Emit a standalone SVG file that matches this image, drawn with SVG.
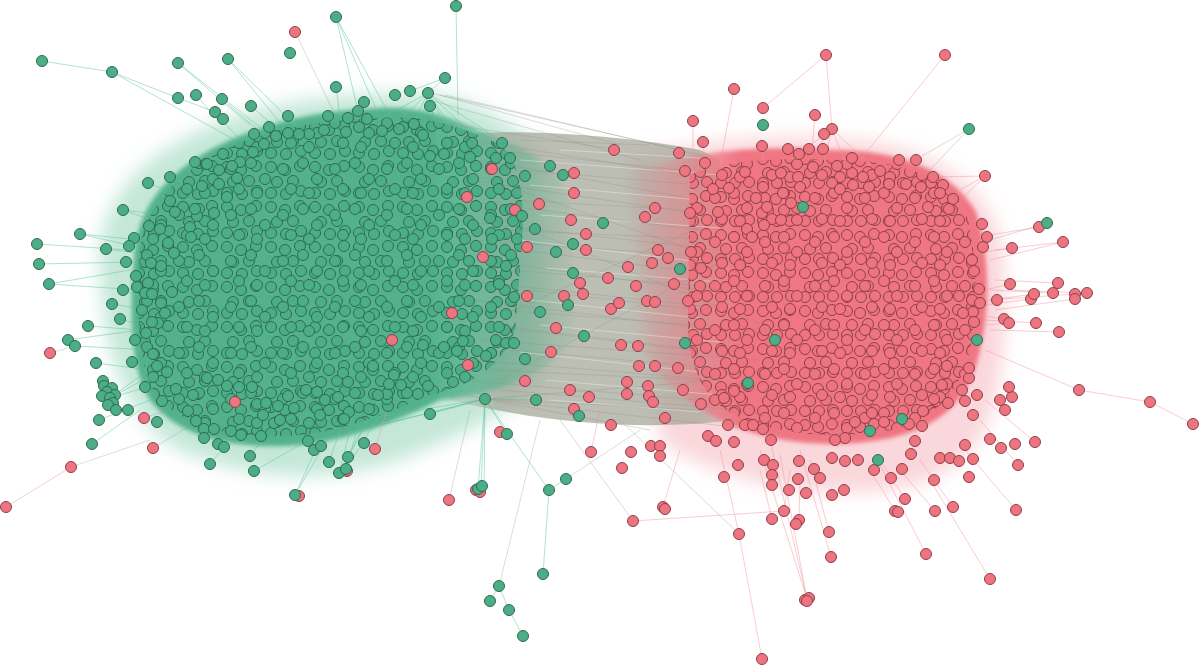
<svg xmlns="http://www.w3.org/2000/svg" width="1200" height="666" viewBox="0 0 1200 666">
<style>
.g{fill:#4cae87;stroke:#2e6a52;stroke-width:1}
.p{fill:#ee7480;stroke:#8d3f4a;stroke-width:1}
.eg{stroke:#5cc29b;stroke-opacity:.6;stroke-width:.8;fill:none}
.ep{stroke:#f2949e;stroke-opacity:.6;stroke-width:.8;fill:none}
.ex{stroke:#8f9285;stroke-opacity:.45;stroke-width:.7;fill:none}
.ew{stroke:#ffffff;stroke-opacity:.35;stroke-width:1.2;fill:none}
</style>
<defs>
<filter id="blur" x="-20%" y="-20%" width="140%" height="140%"><feGaussianBlur stdDeviation="9"/></filter>
<filter id="soft" x="-10%" y="-10%" width="120%" height="120%"><feGaussianBlur stdDeviation="2"/></filter>
<linearGradient id="gG" gradientUnits="userSpaceOnUse" x1="430" y1="0" x2="590" y2="0">
<stop offset="0" stop-color="#52b28b" stop-opacity="1"/><stop offset="1" stop-color="#52b28b" stop-opacity="0"/></linearGradient>
<linearGradient id="gP" gradientUnits="userSpaceOnUse" x1="630" y1="0" x2="740" y2="0">
<stop offset="0" stop-color="#ef7682" stop-opacity="0"/><stop offset="1" stop-color="#ef7682" stop-opacity="1"/></linearGradient>
<linearGradient id="gX" gradientUnits="userSpaceOnUse" x1="430" y1="0" x2="770" y2="0">
<stop offset="0" stop-color="#a3a597" stop-opacity="0"/><stop offset=".2" stop-color="#a3a597" stop-opacity=".72"/><stop offset=".8" stop-color="#a3a597" stop-opacity=".72"/><stop offset="1" stop-color="#a3a597" stop-opacity="0"/></linearGradient>
<pattern id="pg1" width="44" height="40" patternUnits="userSpaceOnUse">
<g class="g"><circle cx="7" cy="7" r="5.5"/><circle cx="21" cy="10" r="5.5"/><circle cx="36" cy="6" r="5.5"/><circle cx="13" cy="22" r="5.5"/><circle cx="29" cy="21" r="5.5"/><circle cx="7" cy="33" r="5.5"/><circle cx="22" cy="34" r="5.5"/><circle cx="37" cy="31" r="5.5"/></g>
</pattern>
<pattern id="pg2" width="52" height="46" patternUnits="userSpaceOnUse" patternTransform="translate(13,17)">
<g class="g"><circle cx="10" cy="14" r="5.5"/><circle cx="30" cy="8" r="5.5"/><circle cx="44" cy="24" r="5.5"/><circle cx="18" cy="34" r="5.5"/><circle cx="36" cy="38" r="5.5"/></g>
</pattern>
<pattern id="pp1" width="42" height="38" patternUnits="userSpaceOnUse">
<g class="p"><circle cx="7" cy="7" r="5.5"/><circle cx="20" cy="9" r="5.5"/><circle cx="34" cy="6" r="5.5"/><circle cx="12" cy="21" r="5.5"/><circle cx="28" cy="20" r="5.5"/><circle cx="7" cy="31" r="5.5"/><circle cx="21" cy="31" r="5.5"/><circle cx="35" cy="30" r="5.5"/></g>
</pattern>
<pattern id="pp2" width="50" height="44" patternUnits="userSpaceOnUse" patternTransform="translate(5,9)">
<g class="p"><circle cx="10" cy="13" r="5.5"/><circle cx="29" cy="8" r="5.5"/><circle cx="42" cy="23" r="5.5"/><circle cx="17" cy="34" r="5.5"/><circle cx="35" cy="36" r="5.5"/></g>
</pattern>
</defs>
<rect width="1200" height="666" fill="#ffffff"/>
<g id="background">
<path d="M100,250 C105,190 150,150 220,122 C280,98 380,90 440,95 C480,102 520,130 540,150 L545,380 C500,420 450,440 400,460 C330,485 250,478 190,455 C130,430 100,360 100,250 Z" fill="#6cc4a0" fill-opacity=".4" filter="url(#blur)"/>
<path d="M630,160 C700,138 800,132 870,142 C940,152 990,190 1000,240 C1010,300 1005,380 985,430 C960,480 900,495 830,492 C760,488 700,470 660,440 Z" fill="#f29aa4" fill-opacity=".4" filter="url(#blur)"/>
<path d="M440,135 C520,128 620,135 700,150 L720,160 L735,420 C640,432 540,422 450,400 Z" fill="url(#gX)"/>
<path d="M135,250 C140,200 175,165 230,140 C280,118 330,110 380,108 C430,106 470,125 500,140 C530,150 560,170 570,200 L575,340 C540,380 490,395 440,400 C400,420 350,440 300,445 C240,450 180,440 150,400 C128,365 130,300 135,250 Z" fill="url(#gG)" filter="url(#soft)"/>
<path d="M620,180 C680,150 760,145 830,150 C900,150 950,170 975,210 C990,250 990,310 980,350 C970,400 940,430 880,440 C820,450 760,440 720,420 C680,400 650,370 630,330 Z" fill="url(#gP)" filter="url(#soft)"/>
</g>
<g id="connectors">
<g class="ew">
<line x1="520" y1="160" x2="720" y2="175"/><line x1="530" y1="185" x2="700" y2="200"/><line x1="540" y1="215" x2="720" y2="228"/><line x1="520" y1="240" x2="700" y2="262"/><line x1="545" y1="268" x2="720" y2="282"/><line x1="530" y1="300" x2="700" y2="318"/><line x1="540" y1="325" x2="720" y2="342"/><line x1="520" y1="352" x2="700" y2="372"/><line x1="545" y1="380" x2="720" y2="395"/><line x1="560" y1="150" x2="700" y2="158"/><line x1="550" y1="400" x2="700" y2="412"/>
</g>
<g class="eg">
<line x1="42" y1="61" x2="112" y2="72"/><line x1="112" y1="72" x2="178" y2="98"/><line x1="112" y1="72" x2="235" y2="140"/>
<line x1="178" y1="63" x2="250" y2="125"/><line x1="178" y1="63" x2="270" y2="135"/><line x1="228" y1="59" x2="290" y2="135"/><line x1="228" y1="59" x2="300" y2="130"/>
<line x1="336" y1="17" x2="358" y2="111"/><line x1="336" y1="17" x2="395" y2="125"/><line x1="336" y1="17" x2="380" y2="118"/>
<line x1="456" y1="6" x2="458" y2="115"/><line x1="445" y1="78" x2="428" y2="93"/><line x1="445" y1="78" x2="410" y2="91"/><line x1="336" y1="87" x2="340" y2="116"/>
<line x1="428" y1="93" x2="380" y2="140"/><line x1="428" y1="93" x2="400" y2="150"/><line x1="428" y1="93" x2="420" y2="160"/><line x1="428" y1="93" x2="440" y2="150"/><line x1="428" y1="93" x2="460" y2="140"/><line x1="428" y1="93" x2="470" y2="170"/><line x1="428" y1="93" x2="490" y2="150"/><line x1="428" y1="93" x2="360" y2="130"/><line x1="428" y1="93" x2="450" y2="180"/><line x1="428" y1="93" x2="410" y2="170"/><line x1="428" y1="93" x2="500" y2="140"/>
<line x1="178" y1="98" x2="215" y2="112"/><line x1="196" y1="95" x2="222" y2="125"/><line x1="222" y1="99" x2="270" y2="140"/><line x1="251" y1="106" x2="290" y2="140"/><line x1="288" y1="116" x2="300" y2="130"/><line x1="215" y1="112" x2="240" y2="140"/>
<line x1="148" y1="183" x2="190" y2="200"/><line x1="170" y1="177" x2="200" y2="190"/><line x1="123" y1="210" x2="165" y2="215"/><line x1="123" y1="210" x2="180" y2="230"/>
<line x1="80" y1="234" x2="140" y2="240"/><line x1="80" y1="234" x2="150" y2="250"/><line x1="37" y1="244" x2="130" y2="250"/><line x1="39" y1="264" x2="135" y2="262"/><line x1="49" y1="284" x2="130" y2="270"/><line x1="49" y1="284" x2="140" y2="290"/>
<line x1="106" y1="249" x2="150" y2="255"/><line x1="123" y1="290" x2="150" y2="300"/><line x1="112" y1="304" x2="150" y2="310"/><line x1="88" y1="326" x2="140" y2="330"/><line x1="120" y1="319" x2="160" y2="330"/>
<line x1="67" y1="340" x2="140" y2="330"/><line x1="75" y1="346" x2="150" y2="350"/><line x1="96" y1="363" x2="150" y2="370"/><line x1="99" y1="420" x2="150" y2="400"/><line x1="92" y1="444" x2="140" y2="410"/>
<line x1="110" y1="398" x2="170" y2="380"/><line x1="110" y1="398" x2="180" y2="360"/><line x1="110" y1="398" x2="190" y2="340"/>
<line x1="210" y1="464" x2="230" y2="440"/><line x1="254" y1="471" x2="300" y2="445"/><line x1="250" y1="456" x2="270" y2="430"/><line x1="295" y1="495" x2="320" y2="440"/><line x1="339" y1="473" x2="350" y2="430"/><line x1="346" y1="469" x2="360" y2="420"/><line x1="348" y1="457" x2="380" y2="400"/><line x1="329" y1="462" x2="340" y2="430"/>
<line x1="485" y1="399" x2="478" y2="489"/><line x1="485" y1="399" x2="481" y2="486"/><line x1="485" y1="399" x2="484" y2="489"/><line x1="485" y1="399" x2="430" y2="414"/><line x1="485" y1="399" x2="507" y2="434"/><line x1="485" y1="399" x2="360" y2="420"/><line x1="485" y1="399" x2="320" y2="440"/><line x1="485" y1="399" x2="300" y2="445"/><line x1="485" y1="399" x2="400" y2="380"/><line x1="485" y1="399" x2="450" y2="360"/><line x1="485" y1="399" x2="549" y2="490"/><line x1="485" y1="399" x2="540" y2="400"/>
<line x1="549" y1="490" x2="566" y2="479"/><line x1="543" y1="574" x2="549" y2="490"/><line x1="509" y1="610" x2="523" y2="636"/><line x1="499" y1="586" x2="509" y2="610"/><line x1="490" y1="601" x2="499" y2="586"/>
<line x1="400" y1="360" x2="340" y2="470"/><line x1="420" y1="350" x2="346" y2="469"/><line x1="380" y1="350" x2="295" y2="495"/>
</g>
<g class="ep">
<line x1="826" y1="55" x2="763" y2="108"/><line x1="826" y1="55" x2="832" y2="129"/><line x1="945" y1="55" x2="860" y2="160"/><line x1="734" y1="89" x2="720" y2="165"/><line x1="693" y1="121" x2="693" y2="160"/><line x1="815" y1="115" x2="812" y2="150"/>
<line x1="832" y1="129" x2="800" y2="170"/><line x1="832" y1="129" x2="850" y2="175"/><line x1="832" y1="129" x2="870" y2="165"/><line x1="832" y1="129" x2="820" y2="180"/><line x1="832" y1="129" x2="790" y2="160"/>
<line x1="703" y1="142" x2="705" y2="163"/><line x1="762" y1="146" x2="763" y2="160"/>
<line x1="985" y1="176" x2="933" y2="177"/><line x1="985" y1="176" x2="950" y2="210"/><line x1="985" y1="176" x2="960" y2="190"/>
<line x1="1039" y1="227" x2="990" y2="235"/><line x1="1063" y1="242" x2="990" y2="260"/><line x1="1063" y1="242" x2="995" y2="250"/><line x1="1012" y1="248" x2="985" y2="252"/>
<line x1="1010" y1="284" x2="985" y2="290"/><line x1="997" y1="300" x2="980" y2="300"/><line x1="1031" y1="299" x2="985" y2="305"/><line x1="1034" y1="294" x2="990" y2="300"/><line x1="1053" y1="293" x2="990" y2="290"/><line x1="1058" y1="283" x2="995" y2="280"/><line x1="1075" y1="294" x2="990" y2="300"/><line x1="1075" y1="299" x2="995" y2="310"/><line x1="1087" y1="293" x2="1010" y2="290"/>
<line x1="1004" y1="319" x2="980" y2="315"/><line x1="1036" y1="323" x2="985" y2="320"/><line x1="1009" y1="323" x2="985" y2="325"/><line x1="1059" y1="332" x2="990" y2="330"/>
<line x1="1079" y1="390" x2="985" y2="350"/><line x1="1150" y1="402" x2="1079" y2="390"/><line x1="1193" y1="424" x2="1150" y2="402"/>
<line x1="1035" y1="442" x2="985" y2="400"/><line x1="1018" y1="465" x2="980" y2="420"/><line x1="1016" y1="510" x2="965" y2="450"/><line x1="990" y1="579" x2="930" y2="480"/><line x1="926" y1="554" x2="880" y2="465"/><line x1="953" y1="507" x2="920" y2="460"/><line x1="935" y1="511" x2="900" y2="470"/><line x1="905" y1="499" x2="880" y2="460"/><line x1="895" y1="511" x2="870" y2="470"/>
<line x1="762" y1="659" x2="739" y2="534"/><line x1="739" y1="534" x2="720" y2="450"/><line x1="807" y1="599" x2="760" y2="450"/><line x1="807" y1="599" x2="770" y2="440"/><line x1="807" y1="599" x2="780" y2="455"/><line x1="831" y1="557" x2="800" y2="450"/><line x1="829" y1="532" x2="810" y2="460"/>
<line x1="633" y1="521" x2="784" y2="511"/><line x1="663" y1="507" x2="680" y2="450"/><line x1="772" y1="519" x2="760" y2="470"/><line x1="784" y1="511" x2="790" y2="470"/><line x1="799" y1="520" x2="800" y2="480"/>
<line x1="6" y1="507" x2="71" y2="467"/><line x1="375" y1="449" x2="390" y2="400"/><line x1="591" y1="452" x2="600" y2="410"/>
</g>
<g class="ex">
<line x1="295" y1="32" x2="340" y2="125"/><line x1="969" y1="129" x2="915" y2="160"/><line x1="969" y1="129" x2="925" y2="175"/><line x1="1047" y1="223" x2="990" y2="240"/>
<line x1="71" y1="467" x2="150" y2="440"/><line x1="153" y1="448" x2="200" y2="420"/><line x1="144" y1="418" x2="200" y2="400"/><line x1="50" y1="353" x2="75" y2="346"/>
<line x1="449" y1="500" x2="470" y2="410"/><line x1="499" y1="586" x2="540" y2="420"/><line x1="633" y1="521" x2="560" y2="420"/><line x1="739" y1="534" x2="620" y2="420"/><line x1="566" y1="479" x2="640" y2="430"/>
<line x1="420" y1="120" x2="620" y2="150"/><line x1="430" y1="100" x2="640" y2="160"/><line x1="445" y1="95" x2="700" y2="155"/><line x1="440" y1="95" x2="620" y2="145"/><line x1="430" y1="93" x2="680" y2="150"/>
<line x1="470" y1="140" x2="720" y2="180"/><line x1="480" y1="160" x2="700" y2="200"/><line x1="470" y1="180" x2="740" y2="220"/><line x1="460" y1="200" x2="700" y2="230"/><line x1="450" y1="220" x2="720" y2="250"/><line x1="470" y1="240" x2="760" y2="260"/><line x1="480" y1="260" x2="700" y2="290"/><line x1="460" y1="280" x2="740" y2="310"/><line x1="470" y1="300" x2="720" y2="330"/><line x1="450" y1="320" x2="700" y2="350"/><line x1="480" y1="340" x2="760" y2="360"/><line x1="470" y1="360" x2="720" y2="380"/><line x1="460" y1="380" x2="700" y2="400"/><line x1="500" y1="390" x2="740" y2="410"/>
<line x1="490" y1="150" x2="680" y2="170"/><line x1="520" y1="170" x2="760" y2="190"/><line x1="510" y1="200" x2="690" y2="210"/><line x1="500" y1="230" x2="730" y2="240"/><line x1="520" y1="250" x2="680" y2="270"/><line x1="510" y1="270" x2="750" y2="290"/><line x1="530" y1="290" x2="700" y2="310"/><line x1="500" y1="310" x2="760" y2="330"/><line x1="520" y1="330" x2="690" y2="350"/><line x1="510" y1="350" x2="740" y2="370"/><line x1="490" y1="370" x2="700" y2="380"/><line x1="520" y1="140" x2="650" y2="145"/>
<line x1="485" y1="399" x2="700" y2="410"/><line x1="485" y1="399" x2="720" y2="380"/><line x1="485" y1="399" x2="650" y2="430"/><line x1="485" y1="399" x2="760" y2="430"/>
<line x1="460" y1="170" x2="780" y2="280"/><line x1="470" y1="330" x2="760" y2="200"/><line x1="480" y1="210" x2="800" y2="340"/><line x1="500" y1="380" x2="780" y2="230"/>
</g>
</g>
<g id="cluster-green">
<path d="M140,250 C145,205 180,170 232,146 C280,125 330,120 380,118 C430,115 470,130 500,145 C520,160 525,200 522,240 L515,330 C500,370 470,385 430,395 C395,410 350,430 300,435 C240,440 190,430 160,400 C135,370 137,300 140,250 Z" fill="url(#pg1)"/>
<path d="M140,250 C145,205 180,170 232,146 C280,125 330,120 380,118 C430,115 470,130 500,145 C520,160 525,200 522,240 L515,330 C500,370 470,385 430,395 C395,410 350,430 300,435 C240,440 190,430 160,400 C135,370 137,300 140,250 Z" fill="url(#pg2)"/>
</g>
<g id="cluster-pink">
<path d="M690,175 C720,160 780,158 830,160 C900,160 945,175 965,210 C978,250 978,310 970,350 C960,395 930,425 880,432 C820,440 770,432 735,415 C705,400 690,370 688,330 Z" fill="url(#pp1)"/>
<path d="M690,175 C720,160 780,158 830,160 C900,160 945,175 965,210 C978,250 978,310 970,350 C960,395 930,425 880,432 C820,440 770,432 735,415 C705,400 690,370 688,330 Z" fill="url(#pp2)"/>
</g>
<g id="nodes-pink" class="p">
<circle cx="295" cy="32" r="5.5"/><circle cx="50" cy="353" r="5.5"/><circle cx="6" cy="507" r="5.5"/><circle cx="71" cy="467" r="5.5"/><circle cx="153" cy="448" r="5.5"/><circle cx="144" cy="418" r="5.5"/><circle cx="235" cy="402" r="5.5"/><circle cx="299" cy="496" r="5.5"/><circle cx="347" cy="471" r="5.5"/><circle cx="375" cy="449" r="5.5"/><circle cx="392" cy="340" r="5.5"/><circle cx="449" cy="500" r="5.5"/><circle cx="476" cy="490" r="5.5"/><circle cx="480" cy="492" r="5.5"/><circle cx="500" cy="432" r="5.5"/>
<circle cx="492" cy="169" r="5.5"/><circle cx="467" cy="197" r="5.5"/><circle cx="574" cy="173" r="5.5"/><circle cx="574" cy="193" r="5.5"/><circle cx="539" cy="204" r="5.5"/><circle cx="515" cy="210" r="5.5"/><circle cx="571" cy="220" r="5.5"/><circle cx="586" cy="234" r="5.5"/><circle cx="527" cy="247" r="5.5"/><circle cx="483" cy="257" r="5.5"/><circle cx="586" cy="250" r="5.5"/><circle cx="580" cy="283" r="5.5"/><circle cx="583" cy="294" r="5.5"/><circle cx="564" cy="296" r="5.5"/><circle cx="527" cy="296" r="5.5"/><circle cx="452" cy="313" r="5.5"/><circle cx="556" cy="328" r="5.5"/><circle cx="468" cy="365" r="5.5"/><circle cx="570" cy="390" r="5.5"/><circle cx="589" cy="397" r="5.5"/><circle cx="574" cy="409" r="5.5"/><circle cx="525" cy="381" r="5.5"/><circle cx="551" cy="352" r="5.5"/><circle cx="591" cy="452" r="5.5"/>
<circle cx="826" cy="55" r="5.5"/><circle cx="945" cy="55" r="5.5"/><circle cx="734" cy="89" r="5.5"/><circle cx="763" cy="108" r="5.5"/><circle cx="693" cy="121" r="5.5"/><circle cx="815" cy="115" r="5.5"/><circle cx="832" cy="129" r="5.5"/><circle cx="824" cy="134" r="5.5"/><circle cx="703" cy="142" r="5.5"/><circle cx="762" cy="146" r="5.5"/><circle cx="614" cy="150" r="5.5"/><circle cx="679" cy="153" r="5.5"/><circle cx="788" cy="149" r="5.5"/><circle cx="799" cy="154" r="5.5"/><circle cx="809" cy="149" r="5.5"/><circle cx="823" cy="149" r="5.5"/><circle cx="705" cy="163" r="5.5"/><circle cx="852" cy="158" r="5.5"/><circle cx="899" cy="160" r="5.5"/><circle cx="916" cy="160" r="5.5"/><circle cx="985" cy="176" r="5.5"/><circle cx="685" cy="171" r="5.5"/><circle cx="745" cy="172" r="5.5"/><circle cx="880" cy="171" r="5.5"/><circle cx="933" cy="177" r="5.5"/><circle cx="943" cy="185" r="5.5"/>
<circle cx="763" cy="187" r="5.5"/><circle cx="781" cy="173" r="5.5"/><circle cx="798" cy="177" r="5.5"/><circle cx="800" cy="187" r="5.5"/><circle cx="813" cy="167" r="5.5"/><circle cx="837" cy="166" r="5.5"/><circle cx="832" cy="183" r="5.5"/><circle cx="840" cy="189" r="5.5"/><circle cx="853" cy="185" r="5.5"/><circle cx="863" cy="177" r="5.5"/><circle cx="869" cy="187" r="5.5"/><circle cx="889" cy="184" r="5.5"/><circle cx="906" cy="184" r="5.5"/><circle cx="921" cy="187" r="5.5"/><circle cx="940" cy="193" r="5.5"/><circle cx="928" cy="207" r="5.5"/><circle cx="783" cy="193" r="5.5"/><circle cx="756" cy="198" r="5.5"/><circle cx="762" cy="213" r="5.5"/><circle cx="767" cy="207" r="5.5"/><circle cx="791" cy="203" r="5.5"/><circle cx="781" cy="220" r="5.5"/><circle cx="797" cy="220" r="5.5"/><circle cx="747" cy="229" r="5.5"/><circle cx="752" cy="237" r="5.5"/><circle cx="764" cy="225" r="5.5"/>
<circle cx="1039" cy="227" r="5.5"/><circle cx="1063" cy="242" r="5.5"/><circle cx="1012" cy="248" r="5.5"/><circle cx="982" cy="224" r="5.5"/><circle cx="987" cy="237" r="5.5"/><circle cx="983" cy="247" r="5.5"/><circle cx="953" cy="199" r="5.5"/><circle cx="949" cy="209" r="5.5"/><circle cx="1010" cy="284" r="5.5"/><circle cx="997" cy="300" r="5.5"/><circle cx="1031" cy="299" r="5.5"/><circle cx="1034" cy="294" r="5.5"/><circle cx="1053" cy="293" r="5.5"/><circle cx="1058" cy="283" r="5.5"/><circle cx="1075" cy="294" r="5.5"/><circle cx="1075" cy="299" r="5.5"/><circle cx="1087" cy="293" r="5.5"/><circle cx="1004" cy="319" r="5.5"/><circle cx="1036" cy="323" r="5.5"/><circle cx="1009" cy="323" r="5.5"/><circle cx="1059" cy="332" r="5.5"/>
<circle cx="972" cy="260" r="5.5"/><circle cx="974" cy="271" r="5.5"/><circle cx="979" cy="289" r="5.5"/><circle cx="972" cy="300" r="5.5"/><circle cx="980" cy="303" r="5.5"/><circle cx="973" cy="312" r="5.5"/><circle cx="963" cy="313" r="5.5"/><circle cx="974" cy="322" r="5.5"/>
<circle cx="645" cy="217" r="5.5"/><circle cx="655" cy="208" r="5.5"/><circle cx="690" cy="213" r="5.5"/><circle cx="718" cy="212" r="5.5"/><circle cx="713" cy="189" r="5.5"/><circle cx="729" cy="188" r="5.5"/><circle cx="658" cy="250" r="5.5"/><circle cx="668" cy="258" r="5.5"/><circle cx="628" cy="267" r="5.5"/><circle cx="608" cy="278" r="5.5"/><circle cx="652" cy="263" r="5.5"/><circle cx="636" cy="286" r="5.5"/><circle cx="611" cy="309" r="5.5"/><circle cx="619" cy="303" r="5.5"/><circle cx="647" cy="301" r="5.5"/><circle cx="655" cy="302" r="5.5"/><circle cx="674" cy="284" r="5.5"/><circle cx="688" cy="301" r="5.5"/><circle cx="701" cy="268" r="5.5"/><circle cx="691" cy="252" r="5.5"/>
<circle cx="621" cy="345" r="5.5"/><circle cx="638" cy="346" r="5.5"/><circle cx="639" cy="366" r="5.5"/><circle cx="655" cy="366" r="5.5"/><circle cx="678" cy="368" r="5.5"/><circle cx="627" cy="382" r="5.5"/><circle cx="648" cy="386" r="5.5"/><circle cx="649" cy="396" r="5.5"/><circle cx="653" cy="402" r="5.5"/><circle cx="627" cy="394" r="5.5"/><circle cx="683" cy="390" r="5.5"/><circle cx="701" cy="404" r="5.5"/><circle cx="715" cy="400" r="5.5"/><circle cx="724" cy="398" r="5.5"/><circle cx="734" cy="391" r="5.5"/><circle cx="611" cy="425" r="5.5"/><circle cx="631" cy="452" r="5.5"/><circle cx="622" cy="468" r="5.5"/><circle cx="651" cy="446" r="5.5"/><circle cx="660" cy="446" r="5.5"/><circle cx="660" cy="456" r="5.5"/><circle cx="665" cy="418" r="5.5"/><circle cx="708" cy="436" r="5.5"/><circle cx="716" cy="441" r="5.5"/><circle cx="724" cy="477" r="5.5"/><circle cx="734" cy="442" r="5.5"/><circle cx="738" cy="465" r="5.5"/><circle cx="728" cy="425" r="5.5"/><circle cx="745" cy="425" r="5.5"/><circle cx="753" cy="425" r="5.5"/><circle cx="763" cy="429" r="5.5"/><circle cx="764" cy="460" r="5.5"/><circle cx="771" cy="440" r="5.5"/><circle cx="773" cy="465" r="5.5"/><circle cx="772" cy="475" r="5.5"/><circle cx="772" cy="485" r="5.5"/><circle cx="789" cy="490" r="5.5"/><circle cx="798" cy="479" r="5.5"/><circle cx="799" cy="461" r="5.5"/><circle cx="806" cy="493" r="5.5"/><circle cx="814" cy="469" r="5.5"/><circle cx="820" cy="478" r="5.5"/><circle cx="832" cy="495" r="5.5"/><circle cx="844" cy="490" r="5.5"/><circle cx="832" cy="458" r="5.5"/><circle cx="845" cy="461" r="5.5"/><circle cx="858" cy="460" r="5.5"/><circle cx="874" cy="470" r="5.5"/><circle cx="891" cy="478" r="5.5"/><circle cx="902" cy="469" r="5.5"/><circle cx="911" cy="454" r="5.5"/><circle cx="915" cy="441" r="5.5"/><circle cx="922" cy="426" r="5.5"/><circle cx="934" cy="480" r="5.5"/><circle cx="940" cy="458" r="5.5"/><circle cx="950" cy="458" r="5.5"/><circle cx="959" cy="461" r="5.5"/><circle cx="965" cy="445" r="5.5"/><circle cx="973" cy="459" r="5.5"/><circle cx="969" cy="477" r="5.5"/><circle cx="990" cy="439" r="5.5"/><circle cx="1001" cy="448" r="5.5"/><circle cx="1015" cy="444" r="5.5"/><circle cx="1000" cy="400" r="5.5"/><circle cx="1005" cy="410" r="5.5"/><circle cx="1012" cy="397" r="5.5"/><circle cx="1009" cy="387" r="5.5"/><circle cx="977" cy="395" r="5.5"/><circle cx="973" cy="415" r="5.5"/><circle cx="965" cy="401" r="5.5"/><circle cx="962" cy="390" r="5.5"/><circle cx="969" cy="378" r="5.5"/><circle cx="969" cy="368" r="5.5"/><circle cx="947" cy="366" r="5.5"/><circle cx="942" cy="385" r="5.5"/><circle cx="934" cy="399" r="5.5"/><circle cx="948" cy="403" r="5.5"/><circle cx="923" cy="411" r="5.5"/><circle cx="909" cy="424" r="5.5"/><circle cx="884" cy="422" r="5.5"/><circle cx="872" cy="413" r="5.5"/><circle cx="855" cy="422" r="5.5"/><circle cx="845" cy="438" r="5.5"/><circle cx="835" cy="440" r="5.5"/>
<circle cx="1079" cy="390" r="5.5"/><circle cx="1150" cy="402" r="5.5"/><circle cx="1193" cy="424" r="5.5"/><circle cx="1035" cy="442" r="5.5"/><circle cx="1018" cy="465" r="5.5"/><circle cx="1016" cy="510" r="5.5"/><circle cx="990" cy="579" r="5.5"/><circle cx="926" cy="554" r="5.5"/><circle cx="953" cy="507" r="5.5"/><circle cx="935" cy="511" r="5.5"/><circle cx="905" cy="499" r="5.5"/><circle cx="895" cy="511" r="5.5"/><circle cx="898" cy="512" r="5.5"/>
<circle cx="762" cy="659" r="5.5"/><circle cx="805" cy="600" r="5.5"/><circle cx="809" cy="598" r="5.5"/><circle cx="807" cy="601" r="5.5"/><circle cx="831" cy="557" r="5.5"/><circle cx="829" cy="532" r="5.5"/><circle cx="739" cy="534" r="5.5"/><circle cx="633" cy="521" r="5.5"/><circle cx="663" cy="507" r="5.5"/><circle cx="665" cy="509" r="5.5"/><circle cx="772" cy="519" r="5.5"/><circle cx="784" cy="511" r="5.5"/><circle cx="799" cy="520" r="5.5"/><circle cx="796" cy="524" r="5.5"/>
</g>
<g id="nodes-green" class="g">
<circle cx="42" cy="61" r="5.5"/><circle cx="112" cy="72" r="5.5"/><circle cx="178" cy="63" r="5.5"/><circle cx="228" cy="59" r="5.5"/><circle cx="290" cy="53" r="5.5"/><circle cx="336" cy="17" r="5.5"/><circle cx="456" cy="6" r="5.5"/><circle cx="336" cy="87" r="5.5"/><circle cx="445" cy="78" r="5.5"/><circle cx="178" cy="98" r="5.5"/><circle cx="196" cy="95" r="5.5"/><circle cx="222" cy="99" r="5.5"/><circle cx="215" cy="112" r="5.5"/><circle cx="223" cy="119" r="5.5"/><circle cx="251" cy="106" r="5.5"/><circle cx="288" cy="116" r="5.5"/><circle cx="269" cy="127" r="5.5"/><circle cx="395" cy="95" r="5.5"/><circle cx="410" cy="91" r="5.5"/><circle cx="428" cy="93" r="5.5"/><circle cx="430" cy="106" r="5.5"/><circle cx="364" cy="102" r="5.5"/><circle cx="358" cy="111" r="5.5"/><circle cx="367" cy="119" r="5.5"/><circle cx="328" cy="116" r="5.5"/><circle cx="348" cy="118" r="5.5"/><circle cx="414" cy="124" r="5.5"/>
<circle cx="148" cy="183" r="5.5"/><circle cx="170" cy="177" r="5.5"/><circle cx="123" cy="210" r="5.5"/><circle cx="80" cy="234" r="5.5"/><circle cx="37" cy="244" r="5.5"/><circle cx="106" cy="249" r="5.5"/><circle cx="39" cy="264" r="5.5"/><circle cx="49" cy="284" r="5.5"/><circle cx="123" cy="290" r="5.5"/><circle cx="112" cy="304" r="5.5"/><circle cx="88" cy="326" r="5.5"/><circle cx="120" cy="319" r="5.5"/><circle cx="134" cy="238" r="5.5"/><circle cx="129" cy="246" r="5.5"/><circle cx="223" cy="154" r="5.5"/><circle cx="195" cy="162" r="5.5"/><circle cx="206" cy="164" r="5.5"/><circle cx="219" cy="170" r="5.5"/><circle cx="202" cy="186" r="5.5"/><circle cx="170" cy="201" r="5.5"/><circle cx="175" cy="212" r="5.5"/>
<circle cx="472" cy="143" r="5.5"/><circle cx="502" cy="143" r="5.5"/><circle cx="496" cy="158" r="5.5"/><circle cx="510" cy="158" r="5.5"/><circle cx="470" cy="157" r="5.5"/><circle cx="444" cy="154" r="5.5"/><circle cx="430" cy="156" r="5.5"/><circle cx="423" cy="135" r="5.5"/><circle cx="399" cy="129" r="5.5"/><circle cx="382" cy="131" r="5.5"/><circle cx="346" cy="132" r="5.5"/><circle cx="324" cy="130" r="5.5"/><circle cx="309" cy="134" r="5.5"/><circle cx="299" cy="134" r="5.5"/><circle cx="288" cy="133" r="5.5"/><circle cx="276" cy="136" r="5.5"/><circle cx="264" cy="144" r="5.5"/><circle cx="254" cy="134" r="5.5"/><circle cx="253" cy="152" r="5.5"/><circle cx="240" cy="162" r="5.5"/><circle cx="232" cy="166" r="5.5"/><circle cx="207" cy="164" r="5.5"/><circle cx="219" cy="184" r="5.5"/><circle cx="237" cy="178" r="5.5"/><circle cx="227" cy="197" r="5.5"/><circle cx="214" cy="213" r="5.5"/><circle cx="197" cy="216" r="5.5"/><circle cx="190" cy="227" r="5.5"/><circle cx="191" cy="237" r="5.5"/><circle cx="174" cy="253" r="5.5"/><circle cx="161" cy="266" r="5.5"/><circle cx="151" cy="263" r="5.5"/><circle cx="148" cy="283" r="5.5"/><circle cx="137" cy="287" r="5.5"/><circle cx="136" cy="276" r="5.5"/><circle cx="126" cy="262" r="5.5"/><circle cx="168" cy="243" r="5.5"/><circle cx="149" cy="226" r="5.5"/><circle cx="160" cy="229" r="5.5"/><circle cx="195" cy="209" r="5.5"/><circle cx="145" cy="293" r="5.5"/><circle cx="152" cy="294" r="5.5"/><circle cx="161" cy="303" r="5.5"/><circle cx="172" cy="292" r="5.5"/><circle cx="165" cy="313" r="5.5"/><circle cx="158" cy="323" r="5.5"/><circle cx="152" cy="322" r="5.5"/><circle cx="142" cy="310" r="5.5"/><circle cx="146" cy="333" r="5.5"/>
<circle cx="68" cy="340" r="5.5"/><circle cx="75" cy="346" r="5.5"/><circle cx="135" cy="340" r="5.5"/><circle cx="132" cy="362" r="5.5"/><circle cx="96" cy="363" r="5.5"/><circle cx="103" cy="381" r="5.5"/><circle cx="145" cy="387" r="5.5"/><circle cx="153" cy="354" r="5.5"/><circle cx="157" cy="366" r="5.5"/><circle cx="167" cy="372" r="5.5"/><circle cx="176" cy="389" r="5.5"/><circle cx="162" cy="401" r="5.5"/><circle cx="188" cy="411" r="5.5"/><circle cx="193" cy="395" r="5.5"/><circle cx="207" cy="378" r="5.5"/><circle cx="218" cy="380" r="5.5"/><circle cx="227" cy="386" r="5.5"/><circle cx="239" cy="387" r="5.5"/><circle cx="252" cy="387" r="5.5"/><circle cx="257" cy="404" r="5.5"/><circle cx="266" cy="403" r="5.5"/><circle cx="263" cy="415" r="5.5"/><circle cx="274" cy="423" r="5.5"/><circle cx="280" cy="420" r="5.5"/><circle cx="294" cy="408" r="5.5"/><circle cx="288" cy="396" r="5.5"/><circle cx="278" cy="406" r="5.5"/><circle cx="306" cy="390" r="5.5"/><circle cx="317" cy="392" r="5.5"/><circle cx="325" cy="400" r="5.5"/><circle cx="338" cy="397" r="5.5"/><circle cx="320" cy="415" r="5.5"/><circle cx="349" cy="412" r="5.5"/><circle cx="344" cy="419" r="5.5"/><circle cx="348" cy="382" r="5.5"/><circle cx="373" cy="366" r="5.5"/><circle cx="394" cy="375" r="5.5"/><circle cx="401" cy="385" r="5.5"/><circle cx="428" cy="386" r="5.5"/><circle cx="387" cy="394" r="5.5"/><circle cx="378" cy="395" r="5.5"/><circle cx="389" cy="384" r="5.5"/><circle cx="444" cy="347" r="5.5"/><circle cx="423" cy="345" r="5.5"/><circle cx="457" cy="351" r="5.5"/><circle cx="463" cy="341" r="5.5"/><circle cx="496" cy="340" r="5.5"/><circle cx="506" cy="343" r="5.5"/><circle cx="514" cy="343" r="5.5"/><circle cx="584" cy="336" r="5.5"/>
<circle cx="104" cy="386" r="5.5"/><circle cx="112" cy="388" r="5.5"/><circle cx="107" cy="392" r="5.5"/><circle cx="102" cy="396" r="5.5"/><circle cx="115" cy="395" r="5.5"/><circle cx="110" cy="398" r="5.5"/><circle cx="113" cy="403" r="5.5"/><circle cx="108" cy="405" r="5.5"/>
<circle cx="99" cy="420" r="5.5"/><circle cx="92" cy="444" r="5.5"/><circle cx="116" cy="410" r="5.5"/><circle cx="128" cy="410" r="5.5"/><circle cx="157" cy="422" r="5.5"/><circle cx="204" cy="429" r="5.5"/><circle cx="214" cy="429" r="5.5"/><circle cx="196" cy="421" r="5.5"/><circle cx="204" cy="438" r="5.5"/><circle cx="218" cy="444" r="5.5"/><circle cx="224" cy="447" r="5.5"/><circle cx="231" cy="431" r="5.5"/><circle cx="241" cy="435" r="5.5"/><circle cx="261" cy="436" r="5.5"/><circle cx="210" cy="464" r="5.5"/><circle cx="254" cy="471" r="5.5"/><circle cx="250" cy="456" r="5.5"/><circle cx="295" cy="495" r="5.5"/><circle cx="339" cy="473" r="5.5"/><circle cx="346" cy="469" r="5.5"/><circle cx="348" cy="457" r="5.5"/><circle cx="329" cy="462" r="5.5"/><circle cx="314" cy="450" r="5.5"/><circle cx="308" cy="441" r="5.5"/><circle cx="321" cy="446" r="5.5"/><circle cx="364" cy="443" r="5.5"/><circle cx="430" cy="414" r="5.5"/><circle cx="485" cy="399" r="5.5"/><circle cx="507" cy="434" r="5.5"/><circle cx="549" cy="490" r="5.5"/><circle cx="566" cy="479" r="5.5"/><circle cx="543" cy="574" r="5.5"/><circle cx="499" cy="586" r="5.5"/><circle cx="490" cy="601" r="5.5"/><circle cx="509" cy="610" r="5.5"/><circle cx="523" cy="636" r="5.5"/><circle cx="478" cy="489" r="5.5"/><circle cx="482" cy="486" r="5.5"/><circle cx="536" cy="400" r="5.5"/><circle cx="579" cy="416" r="5.5"/><circle cx="525" cy="359" r="5.5"/><circle cx="486" cy="356" r="5.5"/>
<circle cx="550" cy="166" r="5.5"/><circle cx="563" cy="175" r="5.5"/><circle cx="525" cy="176" r="5.5"/><circle cx="573" cy="244" r="5.5"/><circle cx="556" cy="252" r="5.5"/><circle cx="573" cy="273" r="5.5"/><circle cx="568" cy="305" r="5.5"/><circle cx="540" cy="312" r="5.5"/><circle cx="514" cy="297" r="5.5"/><circle cx="499" cy="284" r="5.5"/><circle cx="506" cy="266" r="5.5"/><circle cx="535" cy="229" r="5.5"/><circle cx="522" cy="216" r="5.5"/><circle cx="490" cy="218" r="5.5"/><circle cx="492" cy="239" r="5.5"/><circle cx="603" cy="223" r="5.5"/><circle cx="680" cy="269" r="5.5"/><circle cx="685" cy="343" r="5.5"/><circle cx="775" cy="340" r="5.5"/><circle cx="977" cy="340" r="5.5"/><circle cx="748" cy="383" r="5.5"/><circle cx="870" cy="431" r="5.5"/><circle cx="878" cy="460" r="5.5"/><circle cx="902" cy="419" r="5.5"/><circle cx="803" cy="207" r="5.5"/><circle cx="1047" cy="223" r="5.5"/><circle cx="763" cy="125" r="5.5"/><circle cx="969" cy="129" r="5.5"/>
</g>
</svg>
